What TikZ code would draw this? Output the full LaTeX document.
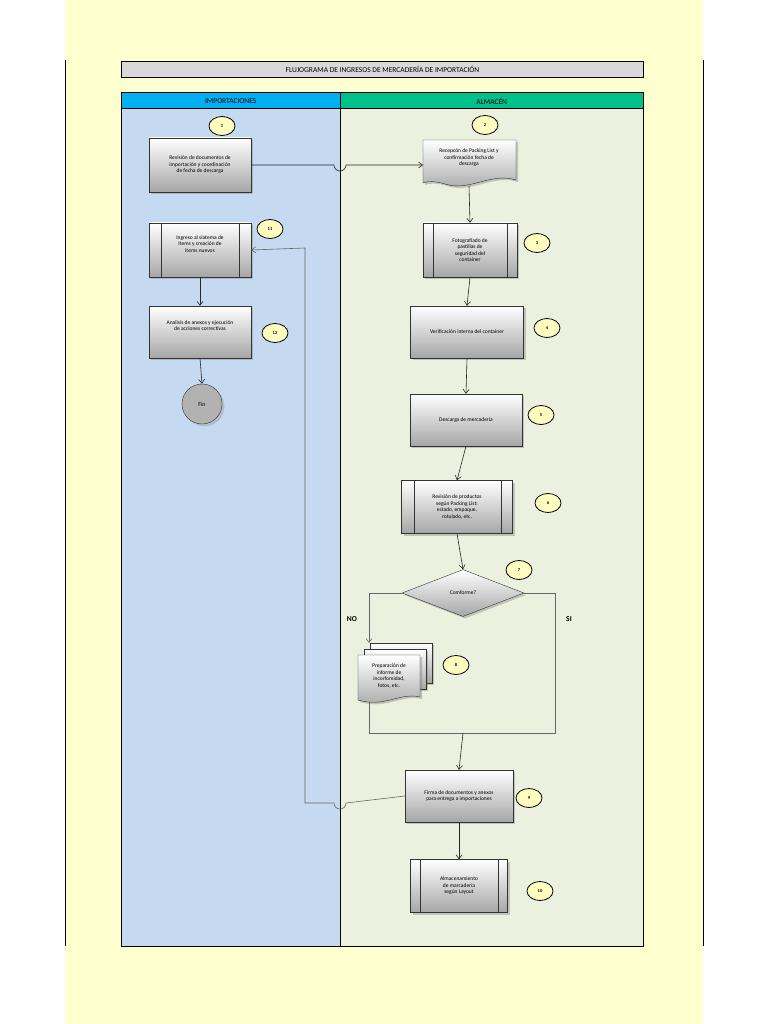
\documentclass[tikz,border=0pt]{standalone}
\usepackage{fontspec}
\setmainfont{Carlito}
\usetikzlibrary{shapes.geometric,shadows,arrows.meta}
\definecolor{bgy}{HTML}{FFFFD0}
\definecolor{hblue}{HTML}{00B0F0}
\definecolor{hgreen}{HTML}{00C08B}
\definecolor{lblue}{HTML}{C5D9F1}
\definecolor{lgreen}{HTML}{EBF1DE}
\definecolor{tgray}{HTML}{D9D9D9}
\begin{document}
\begin{tikzpicture}[x=1pt,y=-1pt,
  box/.style={draw=black!80,top color=white,bottom color=black!35,drop shadow={opacity=0.4,shadow xshift=2pt,shadow yshift=-2pt},align=center,font=\fontsize{5.5}{6.5}\selectfont,inner sep=1pt},
  num/.style={ellipse,draw=black,line width=0.8pt,fill=yellow!25,minimum width=26pt,minimum height=19pt,font=\fontsize{4.5}{5}\selectfont\bfseries,inner sep=0pt},
  arr/.style={draw=black!85,line width=0.6pt,-{Straight Barb[length=4pt,width=6pt]}},
  ln/.style={draw=black!60,line width=0.6pt}]
\useasboundingbox (0,0) rectangle (768,1024);
\fill[white] (0,0) rectangle (768,1024);
\fill[bgy] (65,0) rectangle (703,1024);
\draw[line width=1pt] (65,60) -- (65,946) (703,60) -- (703,946);
\node[draw,line width=1pt,fill=tgray,minimum width=522pt,minimum height=16pt,anchor=north west,inner sep=0pt,font=\fontsize{7.5}{8}\selectfont] (title) at (121,61) {FLUJOGRAMA DE INGRESOS DE MERCADERÍA DE IMPORTACIÓN};
\fill[lblue] (121,109) rectangle (340,946);
\fill[lgreen] (340,109) rectangle (643,946);
\node[fill=hblue,minimum width=219pt,minimum height=16pt,anchor=north west,inner sep=0pt,font=\fontsize{7.5}{8}\selectfont] (h1) at (121,93) {IMPORTACIONES};
\node[fill=hgreen,minimum width=303pt,minimum height=16pt,anchor=north west,inner sep=0pt,font=\fontsize{7.5}{8}\selectfont] (h2) at (340,93) {ALMACÉN};
\draw[line width=1pt] (121,93) rectangle (643,946) (121,109) -- (643,109) (340,93) -- (340,946);
% nodes
\node[box,minimum width=102pt,minimum height=54pt] (n1) at (200,165) {Revisión de documentos de\\importación y coordinación\\de fecha de descarga};
\node[num] (c1) at (222,126) {1};
% document 2
\path[box] (423,140) -- (516,140) -- (516,180) .. controls (490,172) and (470,192) .. (445,184) .. controls (435,181) and (428,181) .. (423,183) -- cycle;
\node[align=center,font=\fontsize{5.5}{6.5}\selectfont] (n2) at (469,158) {Recepcón de Packing List y\\confirmación fecha de\\descarga};
\coordinate (n2b) at (469,186);
\coordinate (n2l) at (423,165);
\node[num] (c2) at (485,125) {2};
\node[box,minimum width=94pt,minimum height=54pt] (n3) at (470,250) {Fotografiado de\\pastillas de\\seguridad del\\container};
\draw[black!80] (433,223) -- (433,277) (507,223) -- (507,277);
\node[num] (c3) at (537,243) {3};
\node[box,minimum width=102pt,minimum height=54pt] (n11) at (200,250) {Ingreso al siatema de\\Items y creación de\\items nuevos\\[6pt]};
\draw[black!80] (161,223) -- (161,277) (239,223) -- (239,277);
\node[num] (c11) at (270,229) {11};
\node[box,minimum width=102pt,minimum height=52pt] (n12) at (200,332) {Analisis de anexos y ejecución\\de acciones correctivas\\[6pt]};
\node[num] (c12) at (275,333) {12};
\node[circle,draw=black!80,fill=black!30,minimum size=40pt,font=\fontsize{6}{7}\selectfont,drop shadow={opacity=0.3}] (fin) at (202,404) {Fin};
\node[box,minimum width=113pt,minimum height=52pt] (n4) at (467,332) {Verificación interna del container};
\node[num] (c4) at (547,328) {4};
\node[box,minimum width=112pt,minimum height=52pt] (n5) at (466,420) {Descarga de mercadería};
\node[num] (c5) at (541,415) {5};
\node[box,minimum width=111pt,minimum height=53pt] (n6) at (457,507) {Revisión de productos\\según Packing List:\\estado, empaque,\\rotulado, etc.};
\draw[black!80] (414,481) -- (414,534) (501,481) -- (501,534);
\node[num] (c6) at (548,503) {6};
\node[diamond,aspect=2.6,box,minimum width=122pt,minimum height=47pt] (n7) at (463,593) {Comforme?};
\node[num] (c7) at (519,570) {7};
\node[font=\fontsize{7.5}{8}\selectfont\bfseries] (no) at (352,619) {NO};
\node[font=\fontsize{7.5}{8}\selectfont\bfseries] (si) at (569,619) {SI};
% doc 8 stacked
\path[box] (370,643) -- (432,643) -- (432,683) -- (370,683) -- cycle;
\path[box] (364,649) -- (426,649) -- (426,689) -- (364,689) -- cycle;
\path[box] (358,655) -- (420,655) -- (420,697) .. controls (400,692) and (385,708) .. (358,700) -- cycle;
\node[align=center,font=\fontsize{5.5}{6.5}\selectfont] (n8) at (389,676) {Preparación de\\informe de\\incorfomidad,\\fotos, etc.};
\node[num] (c8) at (456,665) {8};
\coordinate (n8t) at (369,643);
\coordinate (n8b) at (369,702);
\node[box,minimum width=108pt,minimum height=52pt] (n9) at (459,796) {Firma de documentos y anexos\\para entrega a importaciones};
\node[num] (c9) at (529,798) {9};
\node[box,minimum width=97pt,minimum height=53pt] (n10) at (459,886) {Almacenamiento\\de marcadería\\según Layout};
\draw[black!80] (420,860) -- (420,913) (498,860) -- (498,913);
\node[num] (c10) at (540,891) {10};
% connectors
\coordinate (m) at (463,733);
\draw[arr] (n1.east) -- (334,165) arc[start angle=180,end angle=0,radius=6] -- (n2l);
\draw[arr] (n2b) -- (n3.north);
\draw[arr] (n3.south) -- (n4.north);
\draw[arr] (n4.south) -- (n5.north);
\draw[arr] (n5.south) -- (n6.north);
\draw[arr] (n6.south) -- (n7.north);
\draw[arr,draw=black!60] (n7.west) -- (369,593) -- (n8t);
\draw[ln] (n7.east) -- (555,593) -- (555,733) -- (369,733) -- (n8b);
\draw[arr] (m) -- (n9.north);
\draw[arr] (n9.south) -- (n10.north);
\draw[arr,draw=black!60] (n9.west) -- (346,803) arc[start angle=0,end angle=180,radius=6] -- (305,803) -- (305,248) -- (n11.east);
\draw[arr] (n11.south) -- (n12.north);
\draw[arr] (n12.south) -- (fin.north);
\end{tikzpicture}
\end{document}
